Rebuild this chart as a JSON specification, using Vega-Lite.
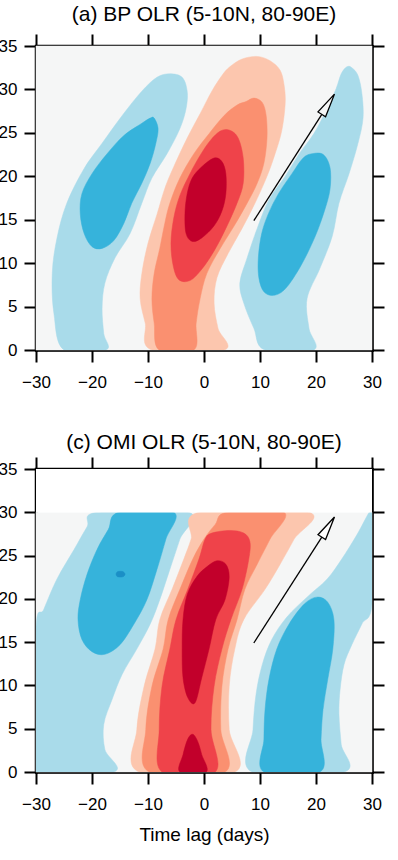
{
  "$schema": "https://vega.github.io/schema/vega-lite/v6.json",
  "background": "white",
  "padding": {"left": -4, "top": 2, "right": 0, "bottom": 0},
  "config": {
    "font": "Liberation Sans",
    "view": {"stroke": "black", "strokeWidth": 2.5},
    "axis": {"domainColor": "black", "domainWidth": 2.5, "domainCap": "square", "tickColor": "black", "tickWidth": 2, "tickSize": 12, "labelFont": "Liberation Sans", "labelFontSize": 17, "labelColor": "black", "labelFlush": false, "labelOverlap": false, "grid": false, "zindex": 1, "titleFont": "Liberation Sans", "titleFontSize": 19, "titleFontWeight": "normal", "titleColor": "black", "titlePadding": 13},
    "axisX": {"labelPadding": 12},
    "axisY": {"labelPadding": 7},
    "title": {"font": "Liberation Sans", "fontSize": 21, "fontWeight": "normal", "color": "black", "anchor": "middle", "frame": "group", "baseline": "alphabetic", "offset": 8},
    "concat": {"spacing": 38}
  },
  "datasets": {
    "arrows": [
      {"shape": "shaft", "i": 0, "lag": 8.9, "lat": 14.9},
      {"shape": "shaft", "i": 1, "lag": 21.04, "lat": 27.13},
      {"shape": "head", "i": 0, "lag": 23.3, "lat": 29.46},
      {"shape": "head", "i": 1, "lag": 20.36, "lat": 27.41},
      {"shape": "head", "i": 2, "lag": 21.71, "lat": 26.86}
    ],
    "contours": [
      {"panel":"a","shape":"abg","level":0,"i":0,"lag":-30,"lat":0},
      {"panel":"a","shape":"abg","level":0,"i":1,"lag":30,"lat":0},
      {"panel":"a","shape":"abg","level":0,"i":2,"lag":30,"lat":35},
      {"panel":"a","shape":"abg","level":0,"i":3,"lag":-30,"lat":35},

      {"panel":"a","shape":"alb1","level":-1,"i":0,"lag":-25.0,"lat":0},
      {"panel":"a","shape":"alb1","level":-1,"i":1,"lag":-26.8,"lat":4.2},
      {"panel":"a","shape":"alb1","level":-1,"i":2,"lag":-27.1,"lat":8.8},
      {"panel":"a","shape":"alb1","level":-1,"i":3,"lag":-26.25,"lat":12.9},
      {"panel":"a","shape":"alb1","level":-1,"i":4,"lag":-24.5,"lat":16.9},
      {"panel":"a","shape":"alb1","level":-1,"i":5,"lag":-21.4,"lat":20.9},
      {"panel":"a","shape":"alb1","level":-1,"i":6,"lag":-18.2,"lat":23.8},
      {"panel":"a","shape":"alb1","level":-1,"i":7,"lag":-14.6,"lat":27.0},
      {"panel":"a","shape":"alb1","level":-1,"i":8,"lag":-11.1,"lat":29.8},
      {"panel":"a","shape":"alb1","level":-1,"i":9,"lag":-8.4,"lat":31.4},
      {"panel":"a","shape":"alb1","level":-1,"i":10,"lag":-6.1,"lat":31.8},
      {"panel":"a","shape":"alb1","level":-1,"i":11,"lag":-3.9,"lat":31.4},
      {"panel":"a","shape":"alb1","level":-1,"i":12,"lag":-3.0,"lat":29.8},
      {"panel":"a","shape":"alb1","level":-1,"i":13,"lag":-3.2,"lat":27.8},
      {"panel":"a","shape":"alb1","level":-1,"i":14,"lag":-4.3,"lat":25.5},
      {"panel":"a","shape":"alb1","level":-1,"i":15,"lag":-6.6,"lat":22.6},
      {"panel":"a","shape":"alb1","level":-1,"i":16,"lag":-9.3,"lat":19.8},
      {"panel":"a","shape":"alb1","level":-1,"i":17,"lag":-11.1,"lat":16.9},
      {"panel":"a","shape":"alb1","level":-1,"i":18,"lag":-13.2,"lat":13.4},
      {"panel":"a","shape":"alb1","level":-1,"i":19,"lag":-15.9,"lat":10.6},
      {"panel":"a","shape":"alb1","level":-1,"i":20,"lag":-17.7,"lat":7.7},
      {"panel":"a","shape":"alb1","level":-1,"i":21,"lag":-18.2,"lat":4.8},
      {"panel":"a","shape":"alb1","level":-1,"i":22,"lag":-17.9,"lat":1.9},
      {"panel":"a","shape":"alb1","level":-1,"i":23,"lag":-17.5,"lat":0},

      {"panel":"a","shape":"amb1","level":-2,"i":0,"lag":-8.9,"lat":26.7},
      {"panel":"a","shape":"amb1","level":-2,"i":1,"lag":-8.2,"lat":25.5},
      {"panel":"a","shape":"amb1","level":-2,"i":2,"lag":-8.6,"lat":23.8},
      {"panel":"a","shape":"amb1","level":-2,"i":3,"lag":-9.6,"lat":21.5},
      {"panel":"a","shape":"amb1","level":-2,"i":4,"lag":-11.1,"lat":19.2},
      {"panel":"a","shape":"amb1","level":-2,"i":5,"lag":-12.9,"lat":16.9},
      {"panel":"a","shape":"amb1","level":-2,"i":6,"lag":-14.3,"lat":14.6},
      {"panel":"a","shape":"amb1","level":-2,"i":7,"lag":-16.1,"lat":12.6},
      {"panel":"a","shape":"amb1","level":-2,"i":8,"lag":-18.2,"lat":11.7},
      {"panel":"a","shape":"amb1","level":-2,"i":9,"lag":-20.0,"lat":11.9},
      {"panel":"a","shape":"amb1","level":-2,"i":10,"lag":-21.4,"lat":13.4},
      {"panel":"a","shape":"amb1","level":-2,"i":11,"lag":-22.1,"lat":15.7},
      {"panel":"a","shape":"amb1","level":-2,"i":12,"lag":-21.8,"lat":18.0},
      {"panel":"a","shape":"amb1","level":-2,"i":13,"lag":-20.0,"lat":20.3},
      {"panel":"a","shape":"amb1","level":-2,"i":14,"lag":-17.3,"lat":22.6},
      {"panel":"a","shape":"amb1","level":-2,"i":15,"lag":-14.3,"lat":24.7},
      {"panel":"a","shape":"amb1","level":-2,"i":16,"lag":-11.1,"lat":26.1},
      {"panel":"a","shape":"amb1","level":-2,"i":17,"lag":-9.6,"lat":26.7},

      {"panel":"a","shape":"ap","level":1,"i":0,"lag":4.6,"lat":32.6},
      {"panel":"a","shape":"ap","level":1,"i":1,"lag":6.8,"lat":33.5},
      {"panel":"a","shape":"ap","level":1,"i":2,"lag":9.5,"lat":33.8},
      {"panel":"a","shape":"ap","level":1,"i":3,"lag":11.8,"lat":33.3},
      {"panel":"a","shape":"ap","level":1,"i":4,"lag":13.6,"lat":32.2},
      {"panel":"a","shape":"ap","level":1,"i":5,"lag":14.3,"lat":30.5},
      {"panel":"a","shape":"ap","level":1,"i":6,"lag":14.5,"lat":28.4},
      {"panel":"a","shape":"ap","level":1,"i":7,"lag":13.9,"lat":25.3},
      {"panel":"a","shape":"ap","level":1,"i":8,"lag":12.7,"lat":22.6},
      {"panel":"a","shape":"ap","level":1,"i":9,"lag":11.25,"lat":20.0},
      {"panel":"a","shape":"ap","level":1,"i":10,"lag":9.1,"lat":16.9},
      {"panel":"a","shape":"ap","level":1,"i":11,"lag":6.8,"lat":14.0},
      {"panel":"a","shape":"ap","level":1,"i":12,"lag":4.3,"lat":11.1},
      {"panel":"a","shape":"ap","level":1,"i":13,"lag":2.3,"lat":8.3},
      {"panel":"a","shape":"ap","level":1,"i":14,"lag":1.8,"lat":5.4},
      {"panel":"a","shape":"ap","level":1,"i":15,"lag":2.5,"lat":2.5},
      {"panel":"a","shape":"ap","level":1,"i":16,"lag":3.6,"lat":0},
      {"panel":"a","shape":"ap","level":1,"i":17,"lag":-9.3,"lat":0},
      {"panel":"a","shape":"ap","level":1,"i":18,"lag":-10.5,"lat":3.1},
      {"panel":"a","shape":"ap","level":1,"i":19,"lag":-11.4,"lat":5.9},
      {"panel":"a","shape":"ap","level":1,"i":20,"lag":-11.1,"lat":8.8},
      {"panel":"a","shape":"ap","level":1,"i":21,"lag":-10.0,"lat":12.3},
      {"panel":"a","shape":"ap","level":1,"i":22,"lag":-8.4,"lat":15.6},
      {"panel":"a","shape":"ap","level":1,"i":23,"lag":-7.0,"lat":18.6},
      {"panel":"a","shape":"ap","level":1,"i":24,"lag":-5.4,"lat":21.1},
      {"panel":"a","shape":"ap","level":1,"i":25,"lag":-3.0,"lat":24.4},
      {"panel":"a","shape":"ap","level":1,"i":26,"lag":-0.7,"lat":27.2},
      {"panel":"a","shape":"ap","level":1,"i":27,"lag":1.4,"lat":29.8},
      {"panel":"a","shape":"ap","level":1,"i":28,"lag":3.2,"lat":31.6},

      {"panel":"a","shape":"as","level":2,"i":0,"lag":7.5,"lat":28.6},
      {"panel":"a","shape":"as","level":2,"i":1,"lag":8.9,"lat":29.0},
      {"panel":"a","shape":"as","level":2,"i":2,"lag":10.4,"lat":28.5},
      {"panel":"a","shape":"as","level":2,"i":3,"lag":11.1,"lat":27.0},
      {"panel":"a","shape":"as","level":2,"i":4,"lag":11.25,"lat":24.4},
      {"panel":"a","shape":"as","level":2,"i":5,"lag":10.7,"lat":21.5},
      {"panel":"a","shape":"as","level":2,"i":6,"lag":9.5,"lat":19.2},
      {"panel":"a","shape":"as","level":2,"i":7,"lag":7.7,"lat":16.9},
      {"panel":"a","shape":"as","level":2,"i":8,"lag":5.4,"lat":14.3},
      {"panel":"a","shape":"as","level":2,"i":9,"lag":2.9,"lat":11.7},
      {"panel":"a","shape":"as","level":2,"i":10,"lag":0.5,"lat":8.8},
      {"panel":"a","shape":"as","level":2,"i":11,"lag":-0.7,"lat":5.9},
      {"panel":"a","shape":"as","level":2,"i":12,"lag":-1.4,"lat":3.1},
      {"panel":"a","shape":"as","level":2,"i":13,"lag":-1.8,"lat":0},
      {"panel":"a","shape":"as","level":2,"i":14,"lag":-8.0,"lat":0},
      {"panel":"a","shape":"as","level":2,"i":15,"lag":-8.9,"lat":3.1},
      {"panel":"a","shape":"as","level":2,"i":16,"lag":-9.3,"lat":5.9},
      {"panel":"a","shape":"as","level":2,"i":17,"lag":-8.9,"lat":8.8},
      {"panel":"a","shape":"as","level":2,"i":18,"lag":-7.9,"lat":11.7},
      {"panel":"a","shape":"as","level":2,"i":19,"lag":-7.0,"lat":14.6},
      {"panel":"a","shape":"as","level":2,"i":20,"lag":-6.1,"lat":16.9},
      {"panel":"a","shape":"as","level":2,"i":21,"lag":-4.3,"lat":19.8},
      {"panel":"a","shape":"as","level":2,"i":22,"lag":-1.8,"lat":22.6},
      {"panel":"a","shape":"as","level":2,"i":23,"lag":0.9,"lat":24.9},
      {"panel":"a","shape":"as","level":2,"i":24,"lag":3.6,"lat":27.0},
      {"panel":"a","shape":"as","level":2,"i":25,"lag":5.9,"lat":28.2},

      {"panel":"a","shape":"ar","level":3,"i":0,"lag":2.9,"lat":25.2},
      {"panel":"a","shape":"ar","level":3,"i":1,"lag":4.6,"lat":25.3},
      {"panel":"a","shape":"ar","level":3,"i":2,"lag":6.1,"lat":24.4},
      {"panel":"a","shape":"ar","level":3,"i":3,"lag":7.0,"lat":22.1},
      {"panel":"a","shape":"ar","level":3,"i":4,"lag":7.0,"lat":19.2},
      {"panel":"a","shape":"ar","level":3,"i":5,"lag":5.9,"lat":16.9},
      {"panel":"a","shape":"ar","level":3,"i":6,"lag":3.9,"lat":14.0},
      {"panel":"a","shape":"ar","level":3,"i":7,"lag":1.8,"lat":11.4},
      {"panel":"a","shape":"ar","level":3,"i":8,"lag":-0.4,"lat":9.3},
      {"panel":"a","shape":"ar","level":3,"i":9,"lag":-2.5,"lat":8.0},
      {"panel":"a","shape":"ar","level":3,"i":10,"lag":-4.5,"lat":8.1},
      {"panel":"a","shape":"ar","level":3,"i":11,"lag":-5.5,"lat":9.7},
      {"panel":"a","shape":"ar","level":3,"i":12,"lag":-5.9,"lat":12.3},
      {"panel":"a","shape":"ar","level":3,"i":13,"lag":-5.4,"lat":15.2},
      {"panel":"a","shape":"ar","level":3,"i":14,"lag":-4.3,"lat":17.8},
      {"panel":"a","shape":"ar","level":3,"i":15,"lag":-2.5,"lat":20.3},
      {"panel":"a","shape":"ar","level":3,"i":16,"lag":-0.7,"lat":22.4},
      {"panel":"a","shape":"ar","level":3,"i":17,"lag":1.1,"lat":24.1},

      {"panel":"a","shape":"adr","level":4,"i":0,"lag":1.8,"lat":22.1},
      {"panel":"a","shape":"adr","level":4,"i":1,"lag":3.2,"lat":21.7},
      {"panel":"a","shape":"adr","level":4,"i":2,"lag":3.9,"lat":20.3},
      {"panel":"a","shape":"adr","level":4,"i":3,"lag":3.9,"lat":18.0},
      {"panel":"a","shape":"adr","level":4,"i":4,"lag":3.2,"lat":16.0},
      {"panel":"a","shape":"adr","level":4,"i":5,"lag":1.8,"lat":14.3},
      {"panel":"a","shape":"adr","level":4,"i":6,"lag":-0.4,"lat":12.9},
      {"panel":"a","shape":"adr","level":4,"i":7,"lag":-2.1,"lat":12.5},
      {"panel":"a","shape":"adr","level":4,"i":8,"lag":-3.2,"lat":13.4},
      {"panel":"a","shape":"adr","level":4,"i":9,"lag":-3.4,"lat":15.7},
      {"panel":"a","shape":"adr","level":4,"i":10,"lag":-3.0,"lat":18.0},
      {"panel":"a","shape":"adr","level":4,"i":11,"lag":-2.1,"lat":19.8},
      {"panel":"a","shape":"adr","level":4,"i":12,"lag":-0.4,"lat":21.1},

      {"panel":"a","shape":"alb2","level":-1,"i":0,"lag":25.5,"lat":32.6},
      {"panel":"a","shape":"alb2","level":-1,"i":1,"lag":26.4,"lat":32.5},
      {"panel":"a","shape":"alb2","level":-1,"i":2,"lag":27.5,"lat":31.6},
      {"panel":"a","shape":"alb2","level":-1,"i":3,"lag":28.2,"lat":29.5},
      {"panel":"a","shape":"alb2","level":-1,"i":4,"lag":28.4,"lat":26.7},
      {"panel":"a","shape":"alb2","level":-1,"i":5,"lag":27.5,"lat":23.8},
      {"panel":"a","shape":"alb2","level":-1,"i":6,"lag":25.9,"lat":20.3},
      {"panel":"a","shape":"alb2","level":-1,"i":7,"lag":24.1,"lat":16.9},
      {"panel":"a","shape":"alb2","level":-1,"i":8,"lag":22.9,"lat":13.1},
      {"panel":"a","shape":"alb2","level":-1,"i":9,"lag":20.7,"lat":9.4},
      {"panel":"a","shape":"alb2","level":-1,"i":10,"lag":18.4,"lat":5.9},
      {"panel":"a","shape":"alb2","level":-1,"i":11,"lag":18.75,"lat":2.5},
      {"panel":"a","shape":"alb2","level":-1,"i":12,"lag":19.6,"lat":0},
      {"panel":"a","shape":"alb2","level":-1,"i":13,"lag":10.9,"lat":0},
      {"panel":"a","shape":"alb2","level":-1,"i":14,"lag":8.9,"lat":2.5},
      {"panel":"a","shape":"alb2","level":-1,"i":15,"lag":7.1,"lat":5.4},
      {"panel":"a","shape":"alb2","level":-1,"i":16,"lag":6.4,"lat":7.7},
      {"panel":"a","shape":"alb2","level":-1,"i":17,"lag":7.7,"lat":10.6},
      {"panel":"a","shape":"alb2","level":-1,"i":18,"lag":9.5,"lat":14.0},
      {"panel":"a","shape":"alb2","level":-1,"i":19,"lag":11.6,"lat":17.3},
      {"panel":"a","shape":"alb2","level":-1,"i":20,"lag":14.5,"lat":20.0},
      {"panel":"a","shape":"alb2","level":-1,"i":21,"lag":17.0,"lat":22.6},
      {"panel":"a","shape":"alb2","level":-1,"i":22,"lag":19.6,"lat":24.9},
      {"panel":"a","shape":"alb2","level":-1,"i":23,"lag":22.0,"lat":27.8},
      {"panel":"a","shape":"alb2","level":-1,"i":24,"lag":23.6,"lat":30.1},
      {"panel":"a","shape":"alb2","level":-1,"i":25,"lag":24.5,"lat":31.8},

      {"panel":"a","shape":"amb2","level":-2,"i":0,"lag":19.3,"lat":22.6},
      {"panel":"a","shape":"amb2","level":-2,"i":1,"lag":21.3,"lat":22.5},
      {"panel":"a","shape":"amb2","level":-2,"i":2,"lag":22.5,"lat":21.0},
      {"panel":"a","shape":"amb2","level":-2,"i":3,"lag":22.5,"lat":18.5},
      {"panel":"a","shape":"amb2","level":-2,"i":4,"lag":21.5,"lat":16.0},
      {"panel":"a","shape":"amb2","level":-2,"i":5,"lag":19.8,"lat":13.0},
      {"panel":"a","shape":"amb2","level":-2,"i":6,"lag":17.3,"lat":9.7},
      {"panel":"a","shape":"amb2","level":-2,"i":7,"lag":14.6,"lat":7.1},
      {"panel":"a","shape":"amb2","level":-2,"i":8,"lag":12.5,"lat":6.3},
      {"panel":"a","shape":"amb2","level":-2,"i":9,"lag":10.7,"lat":6.7},
      {"panel":"a","shape":"amb2","level":-2,"i":10,"lag":9.8,"lat":8.3},
      {"panel":"a","shape":"amb2","level":-2,"i":11,"lag":9.7,"lat":10.6},
      {"panel":"a","shape":"amb2","level":-2,"i":12,"lag":10.3,"lat":13.4},
      {"panel":"a","shape":"amb2","level":-2,"i":13,"lag":11.5,"lat":15.7},
      {"panel":"a","shape":"amb2","level":-2,"i":14,"lag":13.3,"lat":18.0},
      {"panel":"a","shape":"amb2","level":-2,"i":15,"lag":15.7,"lat":20.3},
      {"panel":"a","shape":"amb2","level":-2,"i":16,"lag":17.7,"lat":22.1},

      {"panel":"c","shape":"cbg","level":0,"i":0,"lag":-30,"lat":0},
      {"panel":"c","shape":"cbg","level":0,"i":1,"lag":30,"lat":0},
      {"panel":"c","shape":"cbg","level":0,"i":2,"lag":30,"lat":30},
      {"panel":"c","shape":"cbg","level":0,"i":3,"lag":-30,"lat":30},

      {"panel":"c","shape":"clb1","level":-1,"i":0,"lag":-19.1,"lat":30},
      {"panel":"c","shape":"clb1","level":-1,"i":1,"lag":-2.7,"lat":30},
      {"panel":"c","shape":"clb1","level":-1,"i":2,"lag":-4.3,"lat":26.9},
      {"panel":"c","shape":"clb1","level":-1,"i":3,"lag":-6.1,"lat":23.4},
      {"panel":"c","shape":"clb1","level":-1,"i":4,"lag":-7.9,"lat":19.9},
      {"panel":"c","shape":"clb1","level":-1,"i":5,"lag":-9.6,"lat":17.1},
      {"panel":"c","shape":"clb1","level":-1,"i":6,"lag":-12.0,"lat":14.2},
      {"panel":"c","shape":"clb1","level":-1,"i":7,"lag":-14.6,"lat":11.3},
      {"panel":"c","shape":"clb1","level":-1,"i":8,"lag":-16.4,"lat":8.4},
      {"panel":"c","shape":"clb1","level":-1,"i":9,"lag":-17.9,"lat":5.5},
      {"panel":"c","shape":"clb1","level":-1,"i":10,"lag":-17.7,"lat":2.6},
      {"panel":"c","shape":"clb1","level":-1,"i":11,"lag":-16.1,"lat":0},
      {"panel":"c","shape":"clb1","level":-1,"i":12,"lag":-30,"lat":0},
      {"panel":"c","shape":"clb1","level":-1,"i":13,"lag":-30,"lat":16.5},
      {"panel":"c","shape":"clb1","level":-1,"i":14,"lag":-28.6,"lat":18.8},
      {"panel":"c","shape":"clb1","level":-1,"i":15,"lag":-26.25,"lat":22.3},
      {"panel":"c","shape":"clb1","level":-1,"i":16,"lag":-23.2,"lat":25.7},
      {"panel":"c","shape":"clb1","level":-1,"i":17,"lag":-20.9,"lat":28.3},

      {"panel":"c","shape":"cmb1","level":-2,"i":0,"lag":-15.2,"lat":30},
      {"panel":"c","shape":"cmb1","level":-2,"i":1,"lag":-5.4,"lat":30},
      {"panel":"c","shape":"cmb1","level":-2,"i":2,"lag":-6.8,"lat":26.9},
      {"panel":"c","shape":"cmb1","level":-2,"i":3,"lag":-8.4,"lat":23.4},
      {"panel":"c","shape":"cmb1","level":-2,"i":4,"lag":-10.2,"lat":19.9},
      {"panel":"c","shape":"cmb1","level":-2,"i":5,"lag":-12.5,"lat":17.1},
      {"panel":"c","shape":"cmb1","level":-2,"i":6,"lag":-15.0,"lat":14.7},
      {"panel":"c","shape":"cmb1","level":-2,"i":7,"lag":-17.7,"lat":13.6},
      {"panel":"c","shape":"cmb1","level":-2,"i":8,"lag":-20.0,"lat":13.9},
      {"panel":"c","shape":"cmb1","level":-2,"i":9,"lag":-21.8,"lat":15.3},
      {"panel":"c","shape":"cmb1","level":-2,"i":10,"lag":-22.5,"lat":17.6},
      {"panel":"c","shape":"cmb1","level":-2,"i":11,"lag":-22.1,"lat":19.9},
      {"panel":"c","shape":"cmb1","level":-2,"i":12,"lag":-20.9,"lat":22.8},
      {"panel":"c","shape":"cmb1","level":-2,"i":13,"lag":-19.1,"lat":25.7},
      {"panel":"c","shape":"cmb1","level":-2,"i":14,"lag":-17.1,"lat":28.0},

      {"panel":"c","shape":"cdb","level":-3,"i":0,"lag":-15.7,"lat":22.85},
      {"panel":"c","shape":"cdb","level":-3,"i":1,"lag":-15.4,"lat":23.15},
      {"panel":"c","shape":"cdb","level":-3,"i":2,"lag":-14.5,"lat":23.15},
      {"panel":"c","shape":"cdb","level":-3,"i":3,"lag":-14.1,"lat":22.85},
      {"panel":"c","shape":"cdb","level":-3,"i":4,"lag":-14.5,"lat":22.55},
      {"panel":"c","shape":"cdb","level":-3,"i":5,"lag":-15.4,"lat":22.55},

      {"panel":"c","shape":"cp","level":1,"i":0,"lag":-0.9,"lat":30},
      {"panel":"c","shape":"cp","level":1,"i":1,"lag":18.75,"lat":30},
      {"panel":"c","shape":"cp","level":1,"i":2,"lag":16.1,"lat":26.9},
      {"panel":"c","shape":"cp","level":1,"i":3,"lag":13.6,"lat":24.0},
      {"panel":"c","shape":"cp","level":1,"i":4,"lag":10.9,"lat":21.1},
      {"panel":"c","shape":"cp","level":1,"i":5,"lag":7.1,"lat":17.6},
      {"panel":"c","shape":"cp","level":1,"i":6,"lag":5.5,"lat":14.2},
      {"panel":"c","shape":"cp","level":1,"i":7,"lag":4.5,"lat":9.9},
      {"panel":"c","shape":"cp","level":1,"i":8,"lag":4.5,"lat":4.9},
      {"panel":"c","shape":"cp","level":1,"i":9,"lag":5.5,"lat":0},
      {"panel":"c","shape":"cp","level":1,"i":10,"lag":-11.6,"lat":0},
      {"panel":"c","shape":"cp","level":1,"i":11,"lag":-12.0,"lat":4.9},
      {"panel":"c","shape":"cp","level":1,"i":12,"lag":-10.7,"lat":9.9},
      {"panel":"c","shape":"cp","level":1,"i":13,"lag":-8.75,"lat":14.2},
      {"panel":"c","shape":"cp","level":1,"i":14,"lag":-7.9,"lat":17.6},
      {"panel":"c","shape":"cp","level":1,"i":15,"lag":-5.7,"lat":21.1},
      {"panel":"c","shape":"cp","level":1,"i":16,"lag":-3.6,"lat":24.6},
      {"panel":"c","shape":"cp","level":1,"i":17,"lag":-2.3,"lat":26.9},

      {"panel":"c","shape":"cs","level":2,"i":0,"lag":4.1,"lat":30},
      {"panel":"c","shape":"cs","level":2,"i":1,"lag":14.3,"lat":30},
      {"panel":"c","shape":"cs","level":2,"i":2,"lag":11.8,"lat":26.9},
      {"panel":"c","shape":"cs","level":2,"i":3,"lag":9.5,"lat":24.0},
      {"panel":"c","shape":"cs","level":2,"i":4,"lag":7.3,"lat":21.1},
      {"panel":"c","shape":"cs","level":2,"i":5,"lag":5.9,"lat":17.6},
      {"panel":"c","shape":"cs","level":2,"i":6,"lag":4.3,"lat":14.2},
      {"panel":"c","shape":"cs","level":2,"i":7,"lag":3.2,"lat":9.9},
      {"panel":"c","shape":"cs","level":2,"i":8,"lag":3.0,"lat":4.9},
      {"panel":"c","shape":"cs","level":2,"i":9,"lag":3.75,"lat":0},
      {"panel":"c","shape":"cs","level":2,"i":10,"lag":-9.8,"lat":0},
      {"panel":"c","shape":"cs","level":2,"i":11,"lag":-10.4,"lat":4.9},
      {"panel":"c","shape":"cs","level":2,"i":12,"lag":-9.3,"lat":9.9},
      {"panel":"c","shape":"cs","level":2,"i":13,"lag":-7.3,"lat":14.2},
      {"panel":"c","shape":"cs","level":2,"i":14,"lag":-6.4,"lat":17.6},
      {"panel":"c","shape":"cs","level":2,"i":15,"lag":-4.3,"lat":21.1},
      {"panel":"c","shape":"cs","level":2,"i":16,"lag":-2.0,"lat":24.6},
      {"panel":"c","shape":"cs","level":2,"i":17,"lag":0.0,"lat":26.9},
      {"panel":"c","shape":"cs","level":2,"i":18,"lag":2.0,"lat":28.6},

      {"panel":"c","shape":"cr","level":3,"i":0,"lag":0.2,"lat":26.9},
      {"panel":"c","shape":"cr","level":3,"i":1,"lag":1.4,"lat":27.6},
      {"panel":"c","shape":"cr","level":3,"i":2,"lag":4.6,"lat":27.9},
      {"panel":"c","shape":"cr","level":3,"i":3,"lag":7.1,"lat":27.6},
      {"panel":"c","shape":"cr","level":3,"i":4,"lag":8.2,"lat":26.6},
      {"panel":"c","shape":"cr","level":3,"i":5,"lag":8.0,"lat":24.6},
      {"panel":"c","shape":"cr","level":3,"i":6,"lag":6.8,"lat":21.1},
      {"panel":"c","shape":"cr","level":3,"i":7,"lag":4.8,"lat":17.6},
      {"panel":"c","shape":"cr","level":3,"i":8,"lag":3.2,"lat":14.2},
      {"panel":"c","shape":"cr","level":3,"i":9,"lag":1.8,"lat":9.9},
      {"panel":"c","shape":"cr","level":3,"i":10,"lag":1.25,"lat":4.9},
      {"panel":"c","shape":"cr","level":3,"i":11,"lag":2.0,"lat":0},
      {"panel":"c","shape":"cr","level":3,"i":12,"lag":-7.5,"lat":0},
      {"panel":"c","shape":"cr","level":3,"i":13,"lag":-8.0,"lat":4.9},
      {"panel":"c","shape":"cr","level":3,"i":14,"lag":-7.5,"lat":9.9},
      {"panel":"c","shape":"cr","level":3,"i":15,"lag":-6.1,"lat":14.2},
      {"panel":"c","shape":"cr","level":3,"i":16,"lag":-5.0,"lat":17.6},
      {"panel":"c","shape":"cr","level":3,"i":17,"lag":-2.9,"lat":21.1},
      {"panel":"c","shape":"cr","level":3,"i":18,"lag":-0.9,"lat":24.6},

      {"panel":"c","shape":"cdr1","level":4,"i":0,"lag":0.5,"lat":23.7},
      {"panel":"c","shape":"cdr1","level":4,"i":1,"lag":2.3,"lat":24.4},
      {"panel":"c","shape":"cdr1","level":4,"i":2,"lag":3.9,"lat":24.0},
      {"panel":"c","shape":"cdr1","level":4,"i":3,"lag":4.5,"lat":22.5},
      {"panel":"c","shape":"cdr1","level":4,"i":4,"lag":3.75,"lat":19.9},
      {"panel":"c","shape":"cdr1","level":4,"i":5,"lag":2.1,"lat":17.6},
      {"panel":"c","shape":"cdr1","level":4,"i":6,"lag":0.9,"lat":14.2},
      {"panel":"c","shape":"cdr1","level":4,"i":7,"lag":-0.4,"lat":10.9},
      {"panel":"c","shape":"cdr1","level":4,"i":8,"lag":-1.6,"lat":8.0},
      {"panel":"c","shape":"cdr1","level":4,"i":9,"lag":-2.9,"lat":8.6},
      {"panel":"c","shape":"cdr1","level":4,"i":10,"lag":-3.75,"lat":10.9},
      {"panel":"c","shape":"cdr1","level":4,"i":11,"lag":-3.9,"lat":14.2},
      {"panel":"c","shape":"cdr1","level":4,"i":12,"lag":-3.75,"lat":17.6},
      {"panel":"c","shape":"cdr1","level":4,"i":13,"lag":-3.0,"lat":20.5},
      {"panel":"c","shape":"cdr1","level":4,"i":14,"lag":-1.25,"lat":22.6},

      {"panel":"c","shape":"cdr2","level":4,"i":0,"lag":-4.3,"lat":0},
      {"panel":"c","shape":"cdr2","level":4,"i":1,"lag":-3.75,"lat":2.0},
      {"panel":"c","shape":"cdr2","level":4,"i":2,"lag":-2.9,"lat":3.8},
      {"panel":"c","shape":"cdr2","level":4,"i":3,"lag":-2.0,"lat":4.35},
      {"panel":"c","shape":"cdr2","level":4,"i":4,"lag":-1.1,"lat":3.5},
      {"panel":"c","shape":"cdr2","level":4,"i":5,"lag":-0.4,"lat":2.0},
      {"panel":"c","shape":"cdr2","level":4,"i":6,"lag":0.4,"lat":0},

      {"panel":"c","shape":"clb2","level":-1,"i":0,"lag":29.5,"lat":30},
      {"panel":"c","shape":"clb2","level":-1,"i":1,"lag":30,"lat":30},
      {"panel":"c","shape":"clb2","level":-1,"i":2,"lag":30,"lat":19.4},
      {"panel":"c","shape":"clb2","level":-1,"i":3,"lag":28.2,"lat":17.1},
      {"panel":"c","shape":"clb2","level":-1,"i":4,"lag":26.4,"lat":14.7},
      {"panel":"c","shape":"clb2","level":-1,"i":5,"lag":25.0,"lat":12.4},
      {"panel":"c","shape":"clb2","level":-1,"i":6,"lag":24.3,"lat":9.5},
      {"panel":"c","shape":"clb2","level":-1,"i":7,"lag":24.1,"lat":6.7},
      {"panel":"c","shape":"clb2","level":-1,"i":8,"lag":24.5,"lat":3.2},
      {"panel":"c","shape":"clb2","level":-1,"i":9,"lag":25.0,"lat":0},
      {"panel":"c","shape":"clb2","level":-1,"i":10,"lag":8.6,"lat":0},
      {"panel":"c","shape":"clb2","level":-1,"i":11,"lag":8.75,"lat":4.9},
      {"panel":"c","shape":"clb2","level":-1,"i":12,"lag":9.3,"lat":9.0},
      {"panel":"c","shape":"clb2","level":-1,"i":13,"lag":10.4,"lat":12.4},
      {"panel":"c","shape":"clb2","level":-1,"i":14,"lag":12.1,"lat":15.3},
      {"panel":"c","shape":"clb2","level":-1,"i":15,"lag":14.8,"lat":17.9},
      {"panel":"c","shape":"clb2","level":-1,"i":16,"lag":18.4,"lat":20.2},
      {"panel":"c","shape":"clb2","level":-1,"i":17,"lag":22.0,"lat":22.3},
      {"panel":"c","shape":"clb2","level":-1,"i":18,"lag":24.6,"lat":24.6},
      {"panel":"c","shape":"clb2","level":-1,"i":19,"lag":27.3,"lat":27.4},

      {"panel":"c","shape":"cmb2","level":-2,"i":0,"lag":20.2,"lat":20.2},
      {"panel":"c","shape":"cmb2","level":-2,"i":1,"lag":22.1,"lat":19.6},
      {"panel":"c","shape":"cmb2","level":-2,"i":2,"lag":23.2,"lat":17.6},
      {"panel":"c","shape":"cmb2","level":-2,"i":3,"lag":23.0,"lat":14.2},
      {"panel":"c","shape":"cmb2","level":-2,"i":4,"lag":22.1,"lat":10.7},
      {"panel":"c","shape":"cmb2","level":-2,"i":5,"lag":21.25,"lat":7.2},
      {"panel":"c","shape":"cmb2","level":-2,"i":6,"lag":20.9,"lat":3.8},
      {"panel":"c","shape":"cmb2","level":-2,"i":7,"lag":20.7,"lat":0},
      {"panel":"c","shape":"cmb2","level":-2,"i":8,"lag":10.7,"lat":0},
      {"panel":"c","shape":"cmb2","level":-2,"i":9,"lag":10.7,"lat":3.8},
      {"panel":"c","shape":"cmb2","level":-2,"i":10,"lag":10.9,"lat":7.2},
      {"panel":"c","shape":"cmb2","level":-2,"i":11,"lag":11.6,"lat":10.7},
      {"panel":"c","shape":"cmb2","level":-2,"i":12,"lag":13.0,"lat":14.2},
      {"panel":"c","shape":"cmb2","level":-2,"i":13,"lag":15.2,"lat":17.1},
      {"panel":"c","shape":"cmb2","level":-2,"i":14,"lag":17.9,"lat":19.4},

      {"panel":"c","shape":"cnd","level":9,"i":0,"lag":-30,"lat":30},
      {"panel":"c","shape":"cnd","level":9,"i":1,"lag":30,"lat":30},
      {"panel":"c","shape":"cnd","level":9,"i":2,"lag":30,"lat":35},
      {"panel":"c","shape":"cnd","level":9,"i":3,"lag":-30,"lat":35}
    ]
  },
  "vconcat": [
    {
      "title": {"text": "(a) BP OLR (5-10N, 80-90E)"},
      "width": 336,
      "height": 304,
      "data": {"name": "contours"},
      "encoding": {
        "x": {"field": "lag", "type": "quantitative", "scale": {"domain": [-30, 30], "nice": false, "zero": false}, "axis": null},
        "y": {"field": "lat", "type": "quantitative", "scale": {"domain": [0, 35], "nice": false, "zero": false}, "axis": null},
        "order": {"field": "i", "type": "quantitative"},
        "detail": {"field": "shape", "type": "nominal"},
        "fill": {"field": "level", "type": "ordinal", "scale": {"domain": [-3, -2, -1, 0, 1, 2, 3, 4, 9], "range": ["#1b8fc6", "#36b3db", "#a9dbea", "#f5f6f6", "#fcc6ae", "#fa9070", "#ef434a", "#c2002b", "#ffffff"]}, "legend": null},
        "stroke": {"field": "level", "type": "ordinal", "scale": {"domain": [-3, -2, -1, 0, 1, 2, 3, 4, 9], "range": ["#1b8fc6", "#36b3db", "#a9dbea", "#f5f6f6", "#fcc6ae", "#fa9070", "#ef434a", "#c2002b", "#ffffff"]}, "legend": null}
      },
      "layer": [
        {
          "transform": [{"filter": "datum.panel === 'a' && datum.level === 0"}],
          "mark": {"type": "line", "interpolate": "linear-closed", "strokeWidth": 0.5},
          "encoding": {
            "x": {"field": "lag", "type": "quantitative", "scale": {"domain": [-30, 30], "nice": false, "zero": false}, "axis": {"orient": "bottom", "values": [-30, -20, -10, 0, 10, 20, 30], "title": null}},
            "y": {"field": "lat", "type": "quantitative", "scale": {"domain": [0, 35], "nice": false, "zero": false}, "axis": {"orient": "left", "values": [0, 5, 10, 15, 20, 25, 30, 35], "title": null}}
          }
        },
        {"transform": [{"filter": "datum.panel === 'a' && (datum.level === -1 || datum.level === 1)"}], "mark": {"type": "line", "interpolate": "cardinal-closed", "strokeWidth": 0.5, "clip": true}},
        {"transform": [{"filter": "datum.panel === 'a' && (datum.level === -2 || datum.level === 2)"}], "mark": {"type": "line", "interpolate": "cardinal-closed", "strokeWidth": 0.5, "clip": true}},
        {"transform": [{"filter": "datum.panel === 'a' && (datum.level === -3 || datum.level === 3)"}], "mark": {"type": "line", "interpolate": "cardinal-closed", "strokeWidth": 0.5, "clip": true}},
        {"transform": [{"filter": "datum.panel === 'a' && datum.level === 4"}], "mark": {"type": "line", "interpolate": "cardinal-closed", "strokeWidth": 0.5, "clip": true}},
        {
          "data": {"name": "arrows"},
          "transform": [{"filter": "datum.shape === 'shaft'"}],
          "mark": {"type": "line", "strokeWidth": 1.3, "clip": true},
          "encoding": {
            "x": {"field": "lag", "type": "quantitative", "scale": {"domain": [-30, 30], "nice": false, "zero": false}, "axis": {"orient": "top", "values": [-30, -20, -10, 0, 10, 20, 30], "labels": false, "title": null}},
            "y": {"field": "lat", "type": "quantitative", "scale": {"domain": [0, 35], "nice": false, "zero": false}, "axis": {"orient": "right", "values": [0, 5, 10, 15, 20, 25, 30, 35], "labels": false, "title": null}},
            "fill": {"value": "transparent"},
            "stroke": {"value": "black"}
          }
        },
        {
          "data": {"name": "arrows"},
          "transform": [{"filter": "datum.shape === 'head'"}],
          "mark": {"type": "line", "interpolate": "linear-closed", "strokeWidth": 1.3, "clip": true},
          "encoding": {
            "fill": {"value": "#f5f6f6"},
            "stroke": {"value": "black"}
          }
        }
      ],
      "resolve": {"axis": {"x": "independent", "y": "independent"}}
    },
    {
      "title": {"text": "(c) OMI OLR (5-10N, 80-90E)", "offset": 3},
      "width": 336,
      "height": 303,
      "data": {"name": "contours"},
      "encoding": {
        "x": {"field": "lag", "type": "quantitative", "scale": {"domain": [-30, 30], "nice": false, "zero": false}, "axis": null},
        "y": {"field": "lat", "type": "quantitative", "scale": {"domain": [0, 35], "nice": false, "zero": false}, "axis": null},
        "order": {"field": "i", "type": "quantitative"},
        "detail": {"field": "shape", "type": "nominal"},
        "fill": {"field": "level", "type": "ordinal", "scale": {"domain": [-3, -2, -1, 0, 1, 2, 3, 4, 9], "range": ["#1b8fc6", "#36b3db", "#a9dbea", "#f5f6f6", "#fcc6ae", "#fa9070", "#ef434a", "#c2002b", "#ffffff"]}, "legend": null},
        "stroke": {"field": "level", "type": "ordinal", "scale": {"domain": [-3, -2, -1, 0, 1, 2, 3, 4, 9], "range": ["#1b8fc6", "#36b3db", "#a9dbea", "#f5f6f6", "#fcc6ae", "#fa9070", "#ef434a", "#c2002b", "#ffffff"]}, "legend": null}
      },
      "layer": [
        {
          "transform": [{"filter": "datum.panel === 'c' && datum.level === 0"}],
          "mark": {"type": "line", "interpolate": "linear-closed", "strokeWidth": 0.5},
          "encoding": {
            "x": {"field": "lag", "type": "quantitative", "scale": {"domain": [-30, 30], "nice": false, "zero": false}, "axis": {"orient": "bottom", "values": [-30, -20, -10, 0, 10, 20, 30], "title": "Time lag (days)"}},
            "y": {"field": "lat", "type": "quantitative", "scale": {"domain": [0, 35], "nice": false, "zero": false}, "axis": {"orient": "left", "values": [0, 5, 10, 15, 20, 25, 30, 35], "title": null}}
          }
        },
        {"transform": [{"filter": "datum.panel === 'c' && (datum.level === -1 || datum.level === 1)"}], "mark": {"type": "line", "interpolate": "cardinal-closed", "strokeWidth": 0.5, "clip": true}},
        {"transform": [{"filter": "datum.panel === 'c' && (datum.level === -2 || datum.level === 2)"}], "mark": {"type": "line", "interpolate": "cardinal-closed", "strokeWidth": 0.5, "clip": true}},
        {"transform": [{"filter": "datum.panel === 'c' && (datum.level === -3 || datum.level === 3)"}], "mark": {"type": "line", "interpolate": "cardinal-closed", "strokeWidth": 0.5, "clip": true}},
        {"transform": [{"filter": "datum.panel === 'c' && datum.level === 4"}], "mark": {"type": "line", "interpolate": "cardinal-closed", "strokeWidth": 0.5, "clip": true}},
        {"transform": [{"filter": "datum.panel === 'c' && datum.level === 9"}], "mark": {"type": "line", "interpolate": "linear-closed", "strokeWidth": 0.5, "clip": true}},
        {
          "data": {"name": "arrows"},
          "transform": [{"filter": "datum.shape === 'shaft'"}],
          "mark": {"type": "line", "strokeWidth": 1.3, "clip": true},
          "encoding": {
            "x": {"field": "lag", "type": "quantitative", "scale": {"domain": [-30, 30], "nice": false, "zero": false}, "axis": {"orient": "top", "values": [-30, -20, -10, 0, 10, 20, 30], "labels": false, "title": null}},
            "y": {"field": "lat", "type": "quantitative", "scale": {"domain": [0, 35], "nice": false, "zero": false}, "axis": {"orient": "right", "values": [0, 5, 10, 15, 20, 25, 30, 35], "labels": false, "title": null}},
            "fill": {"value": "transparent"},
            "stroke": {"value": "black"}
          }
        },
        {
          "data": {"name": "arrows"},
          "transform": [{"filter": "datum.shape === 'head'"}],
          "mark": {"type": "line", "interpolate": "linear-closed", "strokeWidth": 1.3, "clip": true},
          "encoding": {
            "fill": {"value": "#ffffff"},
            "stroke": {"value": "black"}
          }
        }
      ],
      "resolve": {"axis": {"x": "independent", "y": "independent"}}
    }
  ]
}
